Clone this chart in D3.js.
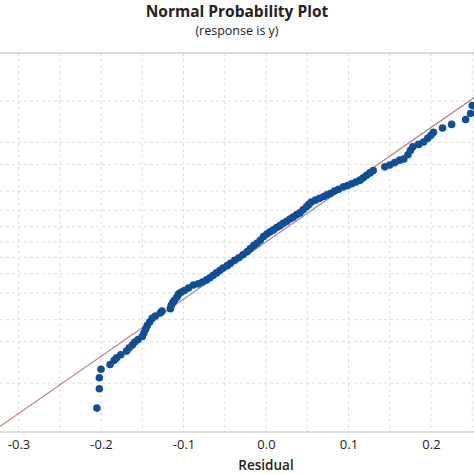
<!DOCTYPE html>
<html>
<head>
<meta charset="utf-8">
<script src="https://cdn.jsdelivr.net/npm/d3@7"></script>
<style>
  body { margin: 0; background: #fff; }
  text { font-family: "Open Sans", sans-serif; }
</style>
</head>
<body>
<div id="chart"></div>
<script>
// sorted residuals and their normal scores
var residuals = [-0.205,-0.202,-0.202,-0.200,-0.189,-0.184,-0.181,-0.176,-0.169,-0.166,-0.162,-0.159,-0.155,-0.150,-0.148,-0.146,-0.144,-0.141,-0.138,-0.134,-0.128,-0.126,-0.116,-0.115,-0.113,-0.111,-0.108,-0.106,-0.103,
  -0.099,-0.094,-0.088,-0.082,-0.077,-0.072,-0.068,-0.064,-0.060,-0.056,-0.052,-0.047,-0.043,-0.038,-0.033,-0.028,-0.023,-0.019,-0.015,-0.011,-0.007,-0.003,
  0.001,0.005,0.009,0.013,0.017,0.021,0.025,0.029,0.033,0.037,0.041,0.045,0.049,0.052,0.055,0.060,0.065,0.070,0.074,0.078,0.083,0.088,0.094,0.099,0.104,0.109,0.114,
  0.118,0.122,0.126,0.130,0.144,0.150,0.156,0.162,0.167,0.172,0.175,0.178,0.185,0.191,0.196,0.200,0.203,0.214,0.225,0.242,0.248,0.250];
var normalScores = [-2.74,-2.42,-2.24,-2.10,-2.02,-1.95,-1.91,-1.86,-1.80,-1.75,-1.70,-1.65,-1.61,-1.56,-1.50,-1.44,-1.38,-1.32,-1.26,-1.22,-1.17,-1.14,-1.10,-1.05,-1.00,-0.96,-0.91,-0.86,-0.83,
  -0.80,-0.76,-0.71,-0.69,-0.66,-0.625,-0.59,-0.55,-0.51,-0.47,-0.43,-0.39,-0.35,-0.30,-0.26,-0.21,-0.16,-0.11,-0.06,-0.02,0.03,0.09,
  0.13,0.17,0.20,0.24,0.27,0.31,0.34,0.38,0.41,0.45,0.48,0.53,0.58,0.62,0.66,0.69,0.72,0.75,0.78,0.80,0.84,0.87,0.91,0.93,0.96,0.99,1.02,
  1.06,1.10,1.14,1.18,1.24,1.27,1.31,1.35,1.37,1.44,1.51,1.57,1.61,1.65,1.71,1.76,1.81,1.88,1.94,2.02,2.12,2.25];
var xTicks = [-0.3,-0.2,-0.1,0.0,0.1,0.2];
var percentGrid = [1,5,10,20,30,40,50,60,70,80,90,95,99];
var fitSigma = 0.106;

// inverse normal CDF (Acklam)
function qnorm(p) {
  var a=[-39.6968302866538,220.946098424521,-275.928510446969,138.357751867269,-30.6647980661472,2.50662827745924],
      b=[-54.4760987982241,161.585836858041,-155.698979859887,66.8013118877197,-13.2806815528857],
      c=[-0.00778489400243029,-0.322396458041136,-2.40075827716184,-2.54973253934373,4.37466414146497,2.93816398269878],
      d=[0.00778469570904146,0.32246712907004,2.445134137143,3.75440866190742];
  var q, r;
  if (p < 0.02425) {
    q = Math.sqrt(-2*Math.log(p));
    return (((((c[0]*q+c[1])*q+c[2])*q+c[3])*q+c[4])*q+c[5])/((((d[0]*q+d[1])*q+d[2])*q+d[3])*q+1);
  }
  if (p > 1-0.02425) return -qnorm(1-p);
  q = p-0.5; r = q*q;
  return (((((a[0]*r+a[1])*r+a[2])*r+a[3])*r+a[4])*r+a[5])*q/(((((b[0]*r+b[1])*r+b[2])*r+b[3])*r+b[4])*r+1);
}

var W = 474, H = 474;
var svg = d3.select('#chart').append('svg').attr('width', W).attr('height', H);

var x = d3.scaleLinear().domain([-0.3, 0.2]).range([18.5, 431]);
var y = d3.scaleLinear().domain([-2.326, 2.326]).range([383, 101]);
var plotTop = 53, plotBottom = 432;

svg.append('text').attr('x', 237).attr('y', 17).attr('text-anchor', 'middle')
  .attr('font-size', 15.5).attr('font-weight', 'bold').attr('fill', '#222').text('Normal Probability Plot');
svg.append('text').attr('x', 237).attr('y', 35).attr('text-anchor', 'middle')
  .attr('font-size', 12.5).attr('fill', '#222').text('(response is y)');

var grid = svg.append('g').attr('stroke', '#dcdcdc').attr('stroke-dasharray', '3,3').attr('stroke-width', 1);
d3.range(-0.35, 0.3, 0.05).forEach(function(v) {
  grid.append('line').attr('x1', x(v)).attr('x2', x(v)).attr('y1', plotTop).attr('y2', plotBottom);
});
percentGrid.forEach(function(p) {
  var z = qnorm(p/100);
  grid.append('line').attr('x1', 0).attr('x2', W).attr('y1', y(z)).attr('y2', y(z));
});

svg.append('line').attr('x1', 0).attr('x2', W).attr('y1', plotTop).attr('y2', plotTop).attr('stroke', '#bbb');
svg.append('line').attr('x1', 0).attr('x2', W).attr('y1', plotBottom).attr('y2', plotBottom).attr('stroke', '#bbb');

svg.append('defs').append('clipPath').attr('id', 'clip').append('rect')
  .attr('x', 0).attr('y', plotTop).attr('width', W).attr('height', plotBottom - plotTop);

var plot = svg.append('g').attr('clip-path', 'url(#clip)');
plot.append('line')
  .attr('x1', x(-0.35)).attr('y1', y(-0.35/fitSigma))
  .attr('x2', x(0.3)).attr('y2', y(0.3/fitSigma))
  .attr('stroke', '#b87a72').attr('stroke-width', 1.2);

plot.selectAll('circle').data(residuals).enter().append('circle')
  .attr('cx', function(d) { return x(d); })
  .attr('cy', function(d, i) { return y(normalScores[i]); })
  .attr('r', 3.8).attr('fill', '#0b4f9e');

var xAxis = svg.append('g').attr('transform', 'translate(0,' + plotBottom + ')')
  .call(d3.axisBottom(x).tickValues(xTicks).tickSize(0).tickPadding(8));
xAxis.select('.domain').remove();
xAxis.selectAll('text').attr('font-size', 13).attr('fill', '#222')
  .attr('font-family', '"Open Sans", sans-serif').text(function(d) { return d3.format('.1f')(d).replace('−', '-'); });

svg.append('text').attr('x', x(0)).attr('y', 470).attr('text-anchor', 'middle')
  .attr('font-size', 13.5).attr('font-weight', 600).attr('fill', '#222').text('Residual');
</script>
</body>
</html>
